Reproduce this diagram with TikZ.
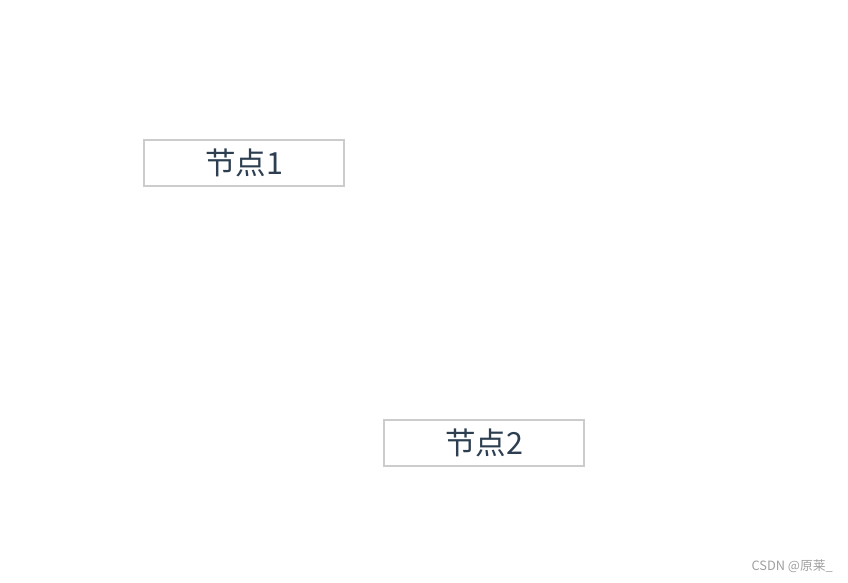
\documentclass[tikz,border=0pt]{standalone}
\usepackage{fontspec}
\setmainfont{Noto Sans}
\newfontfamily\cjk{Noto Sans CJK SC}
\definecolor{boxline}{HTML}{CCCCCC}
\definecolor{boxtext}{HTML}{2C3E50}
\definecolor{wm}{HTML}{A0A0A0}
\begin{document}
\begin{tikzpicture}[x=1pt,y=-1pt,
  nodebox/.style={draw=boxline,line width=2pt,fill=white,minimum width=200pt,minimum height=46pt,inner sep=0pt,text=boxtext,font=\cjk\fontsize{30.5}{34}\selectfont}]
\useasboundingbox (0,0) rectangle (848,582);
\node[nodebox] (n1) at (244,163) {节点1};
\node[nodebox] (n2) at (484,443) {节点2};
\node[anchor=east,text=wm,font=\cjk\fontsize{12.8}{15}\selectfont,inner sep=0pt] (wm) at (833,566) {CSDN @原莱\_};
\end{tikzpicture}
\end{document}
